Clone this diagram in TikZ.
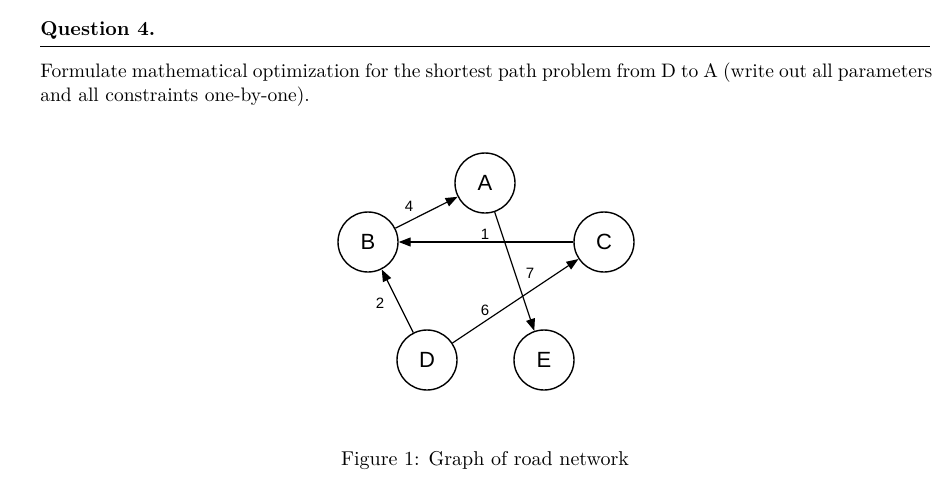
\documentclass[tikz,border=0pt]{standalone}
\usepackage{fontspec}
\newfontfamily\helv{Liberation Sans}
\usetikzlibrary{arrows.meta}
\begin{document}
\begin{tikzpicture}[x=0.5pt,y=-0.5pt,
  vert/.style={circle,draw,line width=0.7pt,minimum size=30pt,inner sep=0pt,font=\helv\fontsize{11}{11}\selectfont},
  edge/.style={line width=0.6pt,-{Triangle[length=6pt,width=4.5pt]}},
  wlab/.style={font=\helv\fontsize{7.5}{8}\selectfont,inner sep=1pt}]
\useasboundingbox (0,0) rectangle (949,499);
\node[anchor=base west,inner sep=0pt,font=\bfseries] (q) at (40,35) {Question 4.};
\draw[line width=0.5pt] (40,46) -- (930,46);
\node[anchor=north west,inner sep=0pt,text width=446pt,align=justify,font=\fontsize{9.75}{12.4}\selectfont] (body) at (40,62)
 {\hyphenpenalty=10000 Formulate mathematical optimization for the shortest path problem from D to A (write out all parameters and all constraints one-by-one).};
\node[vert] (A) at (485,183) {A};
\node[vert] (B) at (368,242) {B};
\node[vert] (C) at (604,242) {C};
\node[vert] (D) at (427,360) {D};
\node[vert] (E) at (544,360) {E};
\draw[edge] (B) -- (A);
\draw[edge] (C) -- (B);
\draw[edge] (A) -- (E);
\draw[edge] (D) -- (C);
\draw[edge] (D) -- (B);
\node[wlab] (l4) at (409,206) {4};
\node[wlab] (l1) at (485,234) {1};
\node[wlab] (l7) at (530,273) {7};
\node[wlab] (l6) at (485,310) {6};
\node[wlab] (l2) at (380,303) {2};
\node[anchor=base,inner sep=0pt] (cap) at (485,465) {Figure 1: Graph of road network};
\end{tikzpicture}
\end{document}
